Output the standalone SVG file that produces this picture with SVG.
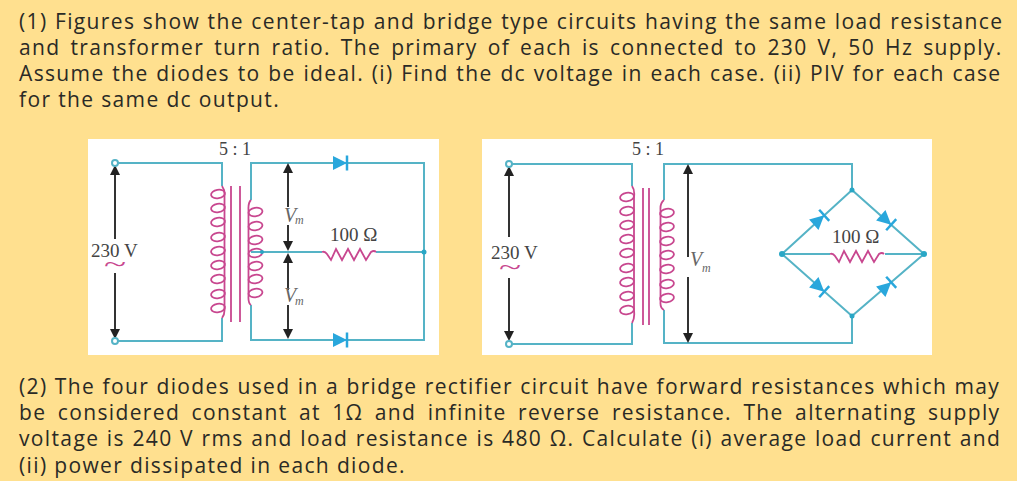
<svg xmlns="http://www.w3.org/2000/svg" width="1017" height="481" viewBox="0 0 1017 481">
<style>
.q{font-family:"Open Sans","Noto Sans",sans-serif;font-size:21px;letter-spacing:1.360px;fill:#2a2a26}
.s{font-family:"Liberation Serif","Times New Roman",serif;font-size:19px;fill:#444}
.i{font-family:"Liberation Serif","Times New Roman",serif;font-style:italic;fill:#666}
.v{font-size:20px}
.m{font-size:12px}
.tl{font-family:"Liberation Serif","Times New Roman",serif;font-size:24px;fill:#c8478f}
.w{fill:none;stroke:#55b3c6;stroke-width:2}
.c{fill:none;stroke:#c8478f;stroke-width:1.800}
.a{fill:none;stroke:#333;stroke-width:2}
.ah{fill:#222}
.d{fill:#29a7dc}
.db{stroke:#29a7dc;stroke-width:2.500}
.t{fill:#fff;stroke:#55b3c6;stroke-width:2}
.dot{fill:#29a7c6}
</style>
<defs>
<ellipse id="loop" class="c" rx="7" ry="4.200" transform="rotate(-10)"/>
<path id="up" class="ah" d="M0 0L-5 10H5Z"/>
<path id="dn" class="ah" d="M0 0L-5 -10H5Z"/>
<g id="diode"><path class="d" d="M-7 -7V7L7 0Z"/><path class="db" d="M7 -7.500V7.500"/></g>
<path id="res" class="c" d="M0 0q3 -1 5 2l4 6l5 -11l6 11l6 -11l6 11l6 -11l6 11l5 -8q3 -2 5 0"/>
</defs>
<rect width="1017" height="481" fill="#ffe08f"/>
<g id="question-1">
<text class="q" x="19" y="29" style="word-spacing:.7px">(1) Figures show the center-tap and bridge type circuits having the same load resistance</text>
<text class="q" x="19" y="55" style="word-spacing:3.200px">and transformer turn ratio. The primary of each is connected to 230 V, 50 Hz supply.</text>
<text class="q" x="19" y="81" style="word-spacing:.95px">Assume the diodes to be ideal. (i) Find the dc voltage in each case. (ii) PIV for each case</text>
<text class="q" x="19" y="107">for the same dc output.</text>
</g>
<g id="question-2">
<text class="q" x="19" y="394" style="word-spacing:.55px">(2) The four diodes used in a bridge rectifier circuit have forward resistances which may</text>
<text class="q" x="19" y="420" style="word-spacing:4.600px">be considered constant at 1Ω and infinite reverse resistance. The alternating supply</text>
<text class="q" x="19" y="446" style="word-spacing:.75px">voltage is 240 V rms and load resistance is 480 Ω. Calculate (i) average load current and</text>
<text class="q" x="19" y="472.500">(ii) power dissipated in each diode.</text>
</g>
<g id="panel-center-tap">
<rect x="88" y="139" width="351" height="216" fill="#fff"/>
<g id="connectors-a">
<path class="w" d="M115 163H222V186M222 318V341H115"/>
<path class="w" d="M251 200V163H424V340H251V305M251 252H424"/>
<path class="a" d="M115 170V239M115 273V336M288 170V207M288 225V246M288 258V290M288 305V334"/>
<use href="#up" x="115" y="165"/><use href="#dn" x="115" y="339"/>
<use href="#up" x="288" y="163"/><use href="#dn" x="288" y="251"/><use href="#up" x="288" y="253"/><use href="#dn" x="288" y="339"/>
</g>
<g id="transformer-a">
<path class="c" d="M222 186Q225 190 224.500 196V308Q225 314 222 318M231 186V322M240 186V322M251 200Q248 203 248.500 210V296Q248 303 251 305"/>
<use href="#loop" x="218" y="194"/><use href="#loop" x="218" y="208"/><use href="#loop" x="218" y="222"/><use href="#loop" x="218" y="237"/><use href="#loop" x="218" y="251"/><use href="#loop" x="218" y="265"/><use href="#loop" x="218" y="279"/><use href="#loop" x="218" y="294"/><use href="#loop" x="218" y="308"/>
<use href="#loop" x="255.500" y="212"/><use href="#loop" x="255.500" y="226"/><use href="#loop" x="255.500" y="240"/><use href="#loop" x="255.500" y="253"/><use href="#loop" x="255.500" y="266"/><use href="#loop" x="255.500" y="279"/><use href="#loop" x="255.500" y="293"/>
</g>
<rect x="322" y="248" width="54" height="9" fill="#fff"/>
<use href="#res" x="322" y="252"/>
<use href="#diode" x="340" y="163"/><use href="#diode" x="340" y="340"/>
<circle class="t" cx="115" cy="163" r="3"/><circle class="t" cx="115" cy="341" r="3"/>
<circle class="dot" cx="424" cy="252" r="2.500"/><circle class="dot" cx="262" cy="252" r="2"/>
<text class="s" x="219" y="155" style="font-size:18px">5 : 1</text>
<text class="s" x="91" y="257">230 V</text>
<text class="tl" transform="translate(104 271.500) scale(1.700 1)">~</text>
<text class="s" x="330" y="241">100 Ω</text>
<text class="i v" x="284" y="222">V</text><text class="i m" x="295" y="224">m</text>
<text class="i v" x="284" y="302">V</text><text class="i m" x="295" y="305">m</text>
</g>
<g id="panel-bridge">
<rect x="482" y="139" width="450" height="216" fill="#fff"/>
<g id="connectors-b">
<path class="w" d="M509 164H632V186M632 323V344H509"/>
<path class="w" d="M664 200V164H852V190L924 254L852 316V343H664V310M852 190L782 254L852 316M782 254H924"/>
<path class="a" d="M509 170V237M509 278V338M688 170V257M688 277V337"/>
<use href="#up" x="509" y="166"/><use href="#dn" x="509" y="341"/>
<use href="#up" x="688" y="164"/><use href="#dn" x="688" y="343"/>
</g>
<g id="transformer-b">
<path class="c" d="M632 186Q635 190 634 197V311Q635 318 632 323M643 188V325M649 188V325M664 200Q660 203 660.500 210V302Q660 308 664 310"/>
<use href="#loop" x="627" y="197"/><use href="#loop" x="627" y="211"/><use href="#loop" x="627" y="225"/><use href="#loop" x="627" y="239"/><use href="#loop" x="627" y="253"/><use href="#loop" x="627" y="268"/><use href="#loop" x="627" y="282"/><use href="#loop" x="627" y="296"/><use href="#loop" x="627" y="310"/>
<use href="#loop" x="667" y="213"/><use href="#loop" x="667" y="227"/><use href="#loop" x="667" y="241"/><use href="#loop" x="667" y="255"/><use href="#loop" x="667" y="269"/><use href="#loop" x="667" y="284"/><use href="#loop" x="667" y="298"/>
</g>
<rect x="830" y="250" width="55" height="9" fill="#fff"/>
<use href="#res" x="830" y="254"/>
<use href="#diode" transform="translate(819 220) rotate(-42)"/>
<use href="#diode" transform="translate(886 220) rotate(42)"/>
<use href="#diode" transform="translate(819 287) rotate(42)"/>
<use href="#diode" transform="translate(886 287) rotate(-42)"/>
<circle class="t" cx="509" cy="164" r="3"/><circle class="t" cx="509" cy="344" r="3"/>
<circle class="dot" cx="852" cy="190" r="2.500"/><circle class="dot" cx="852" cy="316" r="2.500"/><circle class="dot" cx="782" cy="254" r="3"/><circle class="dot" cx="924" cy="254" r="3"/>
<text class="s" x="632" y="155" style="font-size:18px">5 : 1</text>
<text class="s" x="491" y="259">230 V</text>
<text class="tl" transform="translate(499 274.500) scale(1.700 1)">~</text>
<text class="s" x="832" y="243">100 Ω</text>
<text class="i v" x="690" y="266">V</text><text class="i m" x="702" y="272">m</text>
</g>
</svg>
